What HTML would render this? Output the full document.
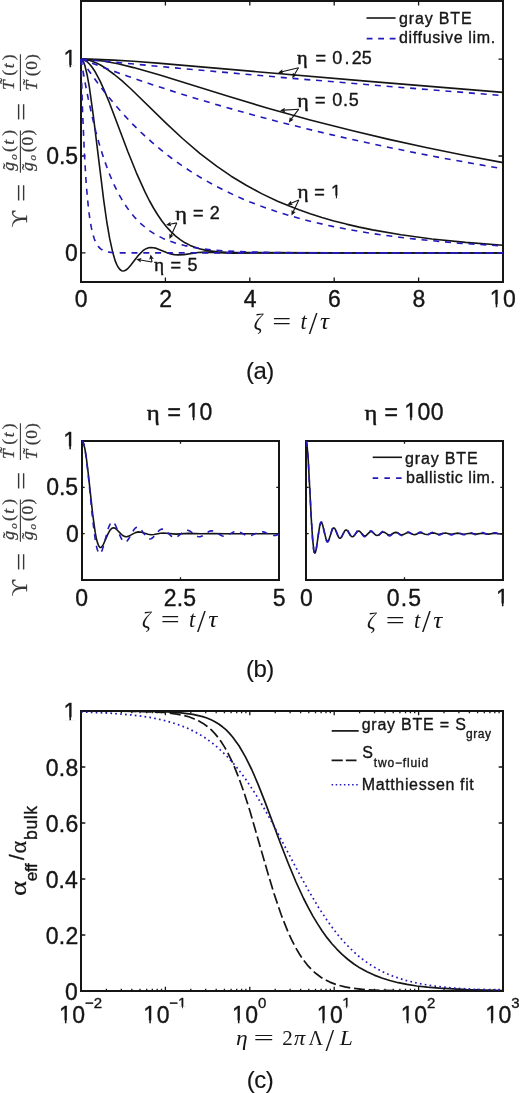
<!DOCTYPE html>
<html><head><meta charset="utf-8"><title>figure</title>
<style>html,body{margin:0;padding:0;background:#fff;overflow:hidden} svg{display:block}</style>
</head><body>
<svg width="520" height="1093" viewBox="0 0 520 1093"><rect width="520" height="1093" fill="#fff"/><path d="M81.0 282v-4.5M81.0 1v4.5M165.4 282v-4.5M165.4 1v4.5M249.8 282v-4.5M249.8 1v4.5M334.2 282v-4.5M334.2 1v4.5M418.6 282v-4.5M418.6 1v4.5M503.0 282v-4.5M503.0 1v4.5M81 252.9h4.5M503 252.9h-4.5M81 156.0h4.5M503 156.0h-4.5M81 59.1h4.5M503 59.1h-4.5" stroke="#151515" stroke-width="1.3" fill="none"/><rect x="81" y="1" width="422" height="281" fill="none" stroke="#151515" stroke-width="2.0"/><path d="M81 59.1 L96.2 59.4 L113.5 60.1 L133.6 61.3 L157.7 63.1 L369.1 81.4 L503 92.4" fill="none" stroke="#151515" stroke-width="1.6" stroke-linejoin="round"/><path d="M81 59.1 L92.1 59.6 L104.3 61.2 L118 63.8 L133.6 67.6 L159.8 75.1 L229 96.6 L267.9 108.2 L310.1 119.9 L352.7 130.8 L388.9 139.4 L426 147.5 L464 155.3 L503 162.6" fill="none" stroke="#151515" stroke-width="1.6" stroke-linejoin="round"/><path d="M81 59.1 L84.6 59.4 L88.3 60.1 L92.2 61.2 L96.3 62.9 L100.5 65 L104.9 67.7 L114.3 74.5 L122.1 80.9 L131 89 L166 123.1 L182.5 138.5 L199.8 153.3 L216.6 166.2 L231.2 176.2 L246.2 185.3 L261.6 193.6 L277.6 201.2 L288.1 205.6 L299 209.8 L310.2 213.7 L321.9 217.4 L333.9 220.9 L346.3 224.1 L359.2 227.1 L372.6 229.9 L401 234.8 L431.9 239 L465.6 242.4 L503 245.3" fill="none" stroke="#151515" stroke-width="1.6" stroke-linejoin="round"/><path d="M81 59.1 L83.2 59.5 L85.4 60.5 L87.7 62.2 L89.9 64.5 L92.3 67.5 L94.8 71.2 L100 80.9 L104.4 90.6 L109.4 102.7 L128 152 L136.4 172.8 L145.1 192.2 L149.3 200.5 L153.5 208 L157.8 215 L162.1 221.2 L166.4 226.7 L170.9 231.6 L175.4 235.9 L180.2 239.6 L185.1 242.8 L190.2 245.4 L198.3 248.5 L207.3 250.6 L217.7 251.9 L230.7 252.6 L336.2 252.9 L503 252.9" fill="none" stroke="#151515" stroke-width="1.6" stroke-linejoin="round"/><path d="M81 59.1 L81.9 59.5 L82.9 60.8 L84 63 L85 66 L87.1 74.7 L89.4 87.4 L93.4 116.3 L103.8 200.9 L106.8 222 L109.7 238.7 L112.6 251.9 L115.4 261.4 L116.9 264.9 L118.4 267.6 L119.9 269.5 L121.5 270.7 L122.9 271 L124.4 270.8 L126 270 L127.7 268.7 L130.7 265.3 L138.6 255.1 L142.9 250.7 L144.9 249.4 L146.7 248.4 L148.7 247.8 L150.7 247.5 L153.4 247.7 L156.5 248.4 L166.6 252.5 L170.6 253.9 L174.3 254.6 L178.1 254.9 L184 254.6 L198.1 252.5 L205.3 252.1 L232.2 253.3 L259.1 252.8 L285.8 253 L503 252.9" fill="none" stroke="#151515" stroke-width="1.6" stroke-linejoin="round"/><path d="M81 59.1 L183.7 68.7 L288.3 78 L394.7 86.9 L503 95.6" fill="none" stroke="#2219b8" stroke-width="1.6" stroke-dasharray="6 5.8" stroke-linejoin="round"/><path d="M81 59.1 L104.2 67.8 L127.7 76.2 L151.6 84.4 L176 92.3 L200.7 99.9 L225.8 107.3 L251.4 114.5 L277.4 121.4 L303.9 128.1 L330.8 134.6 L358.2 140.8 L386.1 146.8 L414.5 152.6 L443.5 158.2 L472.9 163.5 L503 168.7" fill="none" stroke="#2219b8" stroke-width="1.6" stroke-dasharray="6 5.8" stroke-linejoin="round"/><path d="M81 59.1 L89.2 71.2 L97.5 82.8 L105.9 93.7 L114.6 104.3 L123.5 114.4 L132.6 124.1 L141.9 133.2 L151.5 141.9 L161.3 150.2 L171.3 158 L181.6 165.4 L192.3 172.5 L203.3 179.2 L214.5 185.4 L226.1 191.3 L238 196.9 L250.1 202 L262.7 206.8 L275.6 211.3 L289.1 215.5 L303 219.4 L317.5 223 L332.6 226.4 L348.2 229.5 L364.4 232.3 L381.4 234.9 L399.2 237.2 L417.9 239.4 L458.1 243.1 L503 246" fill="none" stroke="#2219b8" stroke-width="1.6" stroke-dasharray="6 5.8" stroke-linejoin="round"/><path d="M81 59.1 L84.5 79.5 L88.2 98.5 L92 115.9 L95.9 132 L100 146.6 L104.4 160.3 L108.9 172.6 L113.6 183.8 L118.6 193.8 L123.8 202.8 L129.3 210.8 L135.2 217.9 L141.4 224.2 L148.1 229.7 L155.3 234.4 L163 238.4 L169.8 241.2 L177 243.6 L184.8 245.6 L193.4 247.4 L202.9 248.8 L213.3 250 L224.9 250.9 L238.2 251.6 L266 252.4 L305.4 252.8 L503 252.9" fill="none" stroke="#2219b8" stroke-width="1.6" stroke-dasharray="6 5.8" stroke-linejoin="round"/><path d="M81 59.1 L82.5 110.2 L84.4 153.5 L86.3 185.5 L88.6 209.7 L89.9 219.3 L91.3 227.4 L92.7 233.6 L94.4 239.1 L96.2 243.3 L98.2 246.4 L100.6 248.9 L103.4 250.6 L106.6 251.7 L110.8 252.4 L116.5 252.8 L125.5 252.9 L503 252.9" fill="none" stroke="#2219b8" stroke-width="1.6" stroke-dasharray="6 5.8" stroke-linejoin="round"/><text x="74.80" y="306.70" font-size="23" fill="#151515" style="font-family:'Liberation Sans',Arial,sans-serif"  stroke="#151515" stroke-width="0.35" stroke-linejoin="round">0</text><text x="159.20" y="306.70" font-size="23" fill="#151515" style="font-family:'Liberation Sans',Arial,sans-serif"  stroke="#151515" stroke-width="0.35" stroke-linejoin="round">2</text><text x="243.68" y="306.70" font-size="23" fill="#151515" style="font-family:'Liberation Sans',Arial,sans-serif"  stroke="#151515" stroke-width="0.35" stroke-linejoin="round">4</text><text x="327.93" y="306.70" font-size="23" fill="#151515" style="font-family:'Liberation Sans',Arial,sans-serif"  stroke="#151515" stroke-width="0.35" stroke-linejoin="round">6</text><text x="412.40" y="306.70" font-size="23" fill="#151515" style="font-family:'Liberation Sans',Arial,sans-serif"  stroke="#151515" stroke-width="0.35" stroke-linejoin="round">8</text><text x="489.68" y="306.70" font-size="23" letter-spacing="0.60" fill="#151515" style="font-family:'Liberation Sans',Arial,sans-serif"  stroke="#151515" stroke-width="0.35" stroke-linejoin="round">10</text><rect x="490.43" y="304.38" width="5.28" height="3.52" fill="#fff"/><rect x="497.25" y="304.38" width="5.10" height="3.52" fill="#fff"/><text x="63.53" y="67.40" font-size="23" fill="#151515" style="font-family:'Liberation Sans',Arial,sans-serif"  stroke="#151515" stroke-width="0.35" stroke-linejoin="round">1</text><rect x="64.28" y="65.08" width="5.28" height="3.52" fill="#fff"/><rect x="71.10" y="65.08" width="5.10" height="3.52" fill="#fff"/><text x="46.30 59.04 65.37" y="164.00" font-size="23" fill="#151515" style="font-family:'Liberation Sans',Arial,sans-serif"  stroke="#151515" stroke-width="0.35" stroke-linejoin="round">0.5</text><text x="65.11" y="261.20" font-size="23" fill="#151515" style="font-family:'Liberation Sans',Arial,sans-serif"  stroke="#151515" stroke-width="0.35" stroke-linejoin="round">0</text><path d="M366.5 18H395.6" stroke="#151515" stroke-width="1.6"/><path d="M366.7 38.6H396.2" stroke="#2219b8" stroke-width="1.7" stroke-dasharray="5.8 5.7"/><text x="399.03" y="24.00" font-size="16" letter-spacing="0.85" fill="#151515" style="font-family:'Liberation Sans',Arial,sans-serif"  stroke="#151515" stroke-width="0.35" stroke-linejoin="round">gray BTE</text><text x="399.03" y="43.30" font-size="16" letter-spacing="0.65" fill="#151515" style="font-family:'Liberation Sans',Arial,sans-serif"  stroke="#151515" stroke-width="0.35" stroke-linejoin="round">diffusive lim.</text><text x="296.98" y="64.27" font-size="17.98" fill="#151515" textLength="10.57" lengthAdjust="spacingAndGlyphs" style="font-family:'Liberation Serif','Times New Roman',serif" stroke="#151515" stroke-width="0.45">η</text><text x="315.55" y="64.00" font-size="18" fill="#151515" style="font-family:'Liberation Sans',Arial,sans-serif" stroke="#151515" stroke-width="0.5">=</text><text x="332.30 344.47 351.63 361.65" y="64.00" font-size="18" fill="#151515" style="font-family:'Liberation Sans',Arial,sans-serif"  stroke="#151515" stroke-width="0.35" stroke-linejoin="round">0.25</text><text x="297.26" y="106.58" font-size="18.42" fill="#151515" textLength="11.49" lengthAdjust="spacingAndGlyphs" style="font-family:'Liberation Serif','Times New Roman',serif" stroke="#151515" stroke-width="0.45">η</text><text x="315.00" y="106.00" font-size="18" fill="#151515" style="font-family:'Liberation Sans',Arial,sans-serif" stroke="#151515" stroke-width="0.5">=</text><text x="332.30 343.03 348.75" y="106.00" font-size="18" fill="#151515" style="font-family:'Liberation Sans',Arial,sans-serif"  stroke="#151515" stroke-width="0.35" stroke-linejoin="round">0.5</text><text x="297.57" y="197.87" font-size="17.98" fill="#151515" textLength="11.03" lengthAdjust="spacingAndGlyphs" style="font-family:'Liberation Serif','Times New Roman',serif" stroke="#151515" stroke-width="0.45">η</text><text x="314.25" y="197.60" font-size="18" fill="#151515" style="font-family:'Liberation Sans',Arial,sans-serif" stroke="#151515" stroke-width="0.5">=</text><text x="331.10" y="197.60" font-size="18" fill="#151515" style="font-family:'Liberation Sans',Arial,sans-serif"  stroke="#151515" stroke-width="0.35" stroke-linejoin="round">1</text><rect x="331.47" y="195.66" width="4.41" height="3.14" fill="#fff"/><rect x="336.97" y="195.66" width="4.26" height="3.14" fill="#fff"/><text x="175.15" y="219.59" font-size="19.3" fill="#151515" textLength="11.61" lengthAdjust="spacingAndGlyphs" style="font-family:'Liberation Serif','Times New Roman',serif" stroke="#151515" stroke-width="0.45">η</text><text x="193.10" y="219.40" font-size="18" fill="#151515" style="font-family:'Liberation Sans',Arial,sans-serif" stroke="#151515" stroke-width="0.5">=</text><text x="209.84" y="219.40" font-size="18" fill="#151515" style="font-family:'Liberation Sans',Arial,sans-serif"  stroke="#151515" stroke-width="0.35" stroke-linejoin="round">2</text><text x="153.90" y="271.38" font-size="18.86" fill="#151515" textLength="10.11" lengthAdjust="spacingAndGlyphs" style="font-family:'Liberation Serif','Times New Roman',serif" stroke="#151515" stroke-width="0.45">η</text><text x="170.50" y="271.10" font-size="18" fill="#151515" style="font-family:'Liberation Sans',Arial,sans-serif" stroke="#151515" stroke-width="0.5">=</text><text x="187.61" y="271.10" font-size="18" fill="#151515" style="font-family:'Liberation Sans',Arial,sans-serif"  stroke="#151515" stroke-width="0.35" stroke-linejoin="round">5</text><path d="M298.5 67.7L282.0 71.7" stroke="#151515" stroke-width="1.1" fill="none"/><path d="M278.1 72.7L282.4 69.3L282.2 71.7L283.5 73.7Z" fill="#151515"/><path d="M298.5 67.7L294.3 74.7" stroke="#151515" stroke-width="1.1" fill="none"/><path d="M292.3 78.1L292.9 72.6L294.5 74.5L296.8 75.0Z" fill="#151515"/><path d="M298.8 109.2L284.1 110.1" stroke="#151515" stroke-width="1.1" fill="none"/><path d="M280.1 110.4L284.9 107.8L284.3 110.1L285.2 112.4Z" fill="#151515"/><path d="M298.8 109.2L291.2 119.2" stroke="#151515" stroke-width="1.1" fill="none"/><path d="M288.8 122.4L289.9 117.0L291.3 119.1L293.6 119.8Z" fill="#151515"/><path d="M298.8 200.0L291.0 203.3" stroke="#151515" stroke-width="1.1" fill="none"/><path d="M287.3 204.8L291.0 200.8L291.2 203.2L292.8 205.0Z" fill="#151515"/><path d="M298.8 200.0L293.2 211.8" stroke="#151515" stroke-width="1.1" fill="none"/><path d="M291.5 215.4L291.6 209.9L293.3 211.6L295.7 211.9Z" fill="#151515"/><path d="M176.8 222.9L169.9 224.2" stroke="#151515" stroke-width="1.1" fill="none"/><path d="M166.0 224.9L170.5 221.7L170.1 224.1L171.3 226.3Z" fill="#151515"/><path d="M176.8 222.9L171.1 235.4" stroke="#151515" stroke-width="1.1" fill="none"/><path d="M169.4 239.0L169.4 233.5L171.2 235.2L173.6 235.4Z" fill="#151515"/><path d="M152.0 262.0L140.2 260.0" stroke="#151515" stroke-width="1.1" fill="none"/><path d="M136.3 259.3L141.6 257.9L140.4 260.0L140.8 262.4Z" fill="#151515"/><path d="M152.0 262.0L151.3 258.3" stroke="#151515" stroke-width="1.1" fill="none"/><path d="M150.6 254.4L153.8 258.9L151.4 258.5L149.2 259.7Z" fill="#151515"/><path d="M82.0 580v-2.7M82.0 441v2.7M180.5 580v-2.7M180.5 441v2.7M279.0 580v-2.7M279.0 441v2.7M82 533.7h2.7M279 533.7h-2.7M82 487.3h2.7M279 487.3h-2.7M82 441.0h2.7M279 441.0h-2.7" stroke="#151515" stroke-width="1.3" fill="none"/><rect x="82" y="441" width="197" height="139" fill="none" stroke="#151515" stroke-width="2.0"/><path d="M306.0 580v-2.7M306.0 441v2.7M404.5 580v-2.7M404.5 441v2.7M503.0 580v-2.7M503.0 441v2.7M306 533.7h2.7M503 533.7h-2.7M306 487.3h2.7M503 487.3h-2.7M306 441.0h2.7M503 441.0h-2.7" stroke="#151515" stroke-width="1.3" fill="none"/><rect x="306" y="441" width="197" height="139" fill="none" stroke="#151515" stroke-width="2.0"/><path d="M82 441 L82.5 441.2 L83 442 L84 444.8 L85 449.5 L86.1 456 L88 471.3 L92.7 514.3 L95.2 532.4 L96.4 538.6 L97.6 543.1 L98.8 546 L100 547.4 L100.8 547.5 L101.5 547.1 L103 545.2 L108 533.9 L109.9 530.4 L111.6 528.5 L113.3 527.8 L114.7 528 L116.2 529 L120.9 533.9 L122.7 535.5 L124.4 536.4 L126 536.7 L127.3 536.6 L128.8 536.1 L135.4 532.6 L138.5 531.9 L141.5 532.3 L148 534.3 L151 534.7 L154 534.5 L160.5 533.2 L163.5 533 L175.9 534.1 L188.4 533.4 L200.8 533.8 L213.2 533.6 L225.5 533.7 L279 533.7" fill="none" stroke="#151515" stroke-width="1.6" stroke-linejoin="round"/><path d="M82 441 L82.5 441.3 L83 442 L84 445.1 L85.1 450.3 L86.2 457.7 L88.2 474.7 L92.8 520.8 L95.2 539.2 L96.2 545.3 L97.3 549.6 L98.3 552.4 L99.3 553.7 L100 553.8 L100.6 553.3 L101.9 550.9 L103.5 546.1 L107.1 532.5 L108.7 527.1 L110.5 523.2 L111.4 522.2 L112.3 521.8 L113 521.9 L113.8 522.4 L115.3 524.7 L120.2 536.2 L121.9 539.6 L123.4 541.4 L124.8 542.1 L126.1 541.8 L127.5 540.5 L129 538.3 L134 529.5 L135.7 527.7 L137.3 527.1 L138.6 527.4 L140 528.4 L141.5 530.2 L146.4 537.1 L148.1 538.5 L149.7 539 L151 538.8 L152.4 538 L154 536.4 L158.9 530.7 L160.5 529.6 L162.1 529.1 L163.5 529.3 L164.9 530.1 L171.3 536.2 L173 537.2 L174.5 537.6 L175.9 537.4 L177.3 536.8 L183.7 531.4 L185.4 530.5 L186.9 530.2 L188.3 530.4 L189.7 530.9 L196.1 535.7 L197.7 536.5 L199.2 536.8 L200.6 536.6 L202.1 536.1 L208.5 531.8 L210.1 531.1 L211.7 530.9 L213 531 L214.5 531.5 L220.9 535.3 L222.4 536 L223.9 536.2 L225.4 536.1 L226.9 535.7 L233.2 532.1 L234.9 531.5 L236.4 531.3 L237.8 531.4 L239.3 531.8 L245.6 535.1 L248.5 535.8 L250 535.8 L251.6 535.4 L258 532.4 L261 531.6 L262.6 531.7 L264.2 532.1 L270.1 534.8 L272.6 535.5 L275.6 535.4 L279 534.2" fill="none" stroke="#2219b8" stroke-width="1.6" stroke-dasharray="6 5.8" stroke-linejoin="round"/><path d="M306 441 L306.5 442 L307 445.1 L308.1 457.3 L311.4 520.6 L312.6 538.9 L313.7 549.2 L314.2 552 L314.8 553.1 L315.1 553 L315.5 552.2 L316.3 548.9 L319.6 526.4 L320.5 523.5 L321.2 522.5 L322 523.2 L322.7 525.3 L326 538.9 L326.8 540.8 L327.5 541.3 L328.2 540.9 L329 539.4 L332.3 529.5 L333 528.3 L333.7 527.9 L334.5 528.3 L335.3 529.4 L338.5 537 L339.3 537.9 L340 538.2 L340.7 537.9 L341.5 537 L344.7 530.9 L345.5 530.2 L346.2 529.9 L346.9 530.2 L347.7 531 L351 536 L351.7 536.6 L352.4 536.8 L353.1 536.6 L353.9 536 L357.2 531.7 L358.6 531 L359.3 531.1 L360.1 531.7 L363.4 535.4 L364.8 536 L366.3 535.4 L369.6 532.1 L371 531.6 L372.3 532 L375.5 534.9 L377.2 535.5 L378.5 535.1 L381.7 532.6 L383.3 532.1 L384.7 532.4 L387.9 534.6 L389.5 535.1 L390.9 534.8 L394.1 532.8 L395.8 532.4 L397.1 532.6 L400.3 534.5 L401.9 534.9 L403.3 534.6 L406.5 533 L408.1 532.6 L409.5 532.8 L412.7 534.3 L414.3 534.7 L415.7 534.4 L418.9 533.1 L420.5 532.8 L421.9 533 L425.1 534.2 L426.7 534.5 L428.1 534.3 L431.3 533.2 L432.9 532.9 L434.2 533.1 L437.5 534.1 L439.1 534.4 L445.3 533 L451.4 534.3 L457.7 533.1 L463.8 534.2 L470 533.2 L476.1 534.1 L482.4 533.2 L488.3 534.1 L494.7 533.3 L500.3 534 L503 533.9" fill="none" stroke="#151515" stroke-width="1.6" stroke-linejoin="round"/><path d="M306 441 L306.5 442 L307 445.1 L308.1 457.4 L311.4 520.5 L312.6 539.2 L313.6 549.8 L314.2 552.6 L314.7 553.8 L315.1 553.6 L315.5 552.9 L316.2 549.4 L319.6 525.9 L320.4 522.9 L321.2 521.8 L321.9 522.4 L322.7 524.7 L325.9 539.5 L326.7 541.4 L327.4 542.1 L328.2 541.6 L329 539.9 L332.2 528.9 L333 527.6 L333.7 527.1 L334.4 527.5 L335.2 528.8 L338.5 537.6 L339.2 538.7 L339.9 539 L340.6 538.7 L341.4 537.6 L344.7 530.3 L345.4 529.4 L346.1 529.1 L346.9 529.4 L347.7 530.4 L350.9 536.6 L351.6 537.3 L352.3 537.6 L353 537.4 L353.6 536.8 L356.9 531.4 L357.7 530.5 L358.5 530.2 L359.2 530.4 L359.8 530.9 L363.1 535.7 L363.9 536.5 L364.7 536.8 L366 536.1 L369.3 531.8 L370.1 531.1 L370.9 530.9 L371.7 531 L372.5 531.7 L375.7 535.6 L377.1 536.2 L378.4 535.7 L381.7 532.1 L382.5 531.5 L383.3 531.3 L384.6 531.8 L387.9 535.1 L388.7 535.7 L389.5 535.9 L390.8 535.4 L394.1 532.3 L395.7 531.6 L397 532.1 L400.3 535 L401.8 535.6 L403.2 535.2 L406.5 532.5 L408.1 531.9 L409.4 532.3 L412.6 534.8 L414.2 535.4 L415.6 535 L418.8 532.6 L420.4 532.1 L421.8 532.4 L425 534.7 L426.6 535.2 L428 534.9 L431.2 532.7 L432.8 532.2 L434.2 532.6 L437.4 534.6 L439 535 L440.4 534.7 L443.6 532.8 L445.2 532.4 L446.6 532.6 L449.8 534.5 L451.3 534.9 L452.8 534.6 L456 532.8 L457.6 532.5 L459 532.7 L462.1 534.4 L463.7 534.8 L465.1 534.6 L468.4 532.9 L469.9 532.6 L471.4 532.8 L474.5 534.4 L476 534.7 L477.5 534.5 L480.7 533 L482.3 532.6 L483.8 532.9 L486.8 534.3 L488.3 534.7 L489.8 534.5 L493.1 533 L494.6 532.7 L496.2 532.9 L500.2 534.5 L501.5 534.6 L503 534.1" fill="none" stroke="#2219b8" stroke-width="1.6" stroke-dasharray="6 5.8" stroke-linejoin="round"/><text x="75.15" y="605.80" font-size="23" fill="#151515" style="font-family:'Liberation Sans',Arial,sans-serif"  stroke="#151515" stroke-width="0.35" stroke-linejoin="round">0</text><text x="163.74 176.71 183.27" y="605.80" font-size="23" fill="#151515" style="font-family:'Liberation Sans',Arial,sans-serif"  stroke="#151515" stroke-width="0.35" stroke-linejoin="round">2.5</text><text x="272.83" y="605.80" font-size="23" fill="#151515" style="font-family:'Liberation Sans',Arial,sans-serif"  stroke="#151515" stroke-width="0.35" stroke-linejoin="round">5</text><text x="300.10" y="605.80" font-size="23" fill="#151515" style="font-family:'Liberation Sans',Arial,sans-serif"  stroke="#151515" stroke-width="0.35" stroke-linejoin="round">0</text><text x="386.70 400.74 408.37" y="605.80" font-size="23" fill="#151515" style="font-family:'Liberation Sans',Arial,sans-serif"  stroke="#151515" stroke-width="0.35" stroke-linejoin="round">0.5</text><text x="495.89" y="605.80" font-size="23" fill="#151515" style="font-family:'Liberation Sans',Arial,sans-serif"  stroke="#151515" stroke-width="0.35" stroke-linejoin="round">1</text><rect x="496.64" y="603.48" width="5.28" height="3.52" fill="#fff"/><rect x="503.46" y="603.48" width="5.10" height="3.52" fill="#fff"/><text x="63.33" y="448.60" font-size="23" fill="#151515" style="font-family:'Liberation Sans',Arial,sans-serif"  stroke="#151515" stroke-width="0.35" stroke-linejoin="round">1</text><rect x="64.08" y="446.28" width="5.28" height="3.52" fill="#fff"/><rect x="70.90" y="446.28" width="5.10" height="3.52" fill="#fff"/><text x="46.30 59.04 65.37" y="495.00" font-size="23" fill="#151515" style="font-family:'Liberation Sans',Arial,sans-serif"  stroke="#151515" stroke-width="0.35" stroke-linejoin="round">0.5</text><text x="66.00" y="542.30" font-size="23" fill="#151515" style="font-family:'Liberation Sans',Arial,sans-serif"  stroke="#151515" stroke-width="0.35" stroke-linejoin="round">0</text><text x="146.81" y="419.83" font-size="21.93" fill="#151515" textLength="12.99" lengthAdjust="spacingAndGlyphs" style="font-family:'Liberation Serif','Times New Roman',serif" stroke="#151515" stroke-width="0.45">η</text><text x="167.54" y="419.80" font-size="23" fill="#151515" style="font-family:'Liberation Sans',Arial,sans-serif" stroke="#151515" stroke-width="0.5">=</text><text x="186.85" y="419.80" font-size="23" letter-spacing="-0.13" fill="#151515" style="font-family:'Liberation Sans',Arial,sans-serif"  stroke="#151515" stroke-width="0.35" stroke-linejoin="round">10</text><rect x="187.60" y="417.48" width="5.28" height="3.52" fill="#fff"/><rect x="194.41" y="417.48" width="5.10" height="3.52" fill="#fff"/><text x="364.52" y="419.83" font-size="21.93" fill="#151515" textLength="12.76" lengthAdjust="spacingAndGlyphs" style="font-family:'Liberation Serif','Times New Roman',serif" stroke="#151515" stroke-width="0.45">η</text><text x="384.39" y="419.80" font-size="23" fill="#151515" style="font-family:'Liberation Sans',Arial,sans-serif" stroke="#151515" stroke-width="0.5">=</text><text x="404.15" y="419.80" font-size="23" letter-spacing="0.54" fill="#151515" style="font-family:'Liberation Sans',Arial,sans-serif"  stroke="#151515" stroke-width="0.35" stroke-linejoin="round">100</text><rect x="404.90" y="417.48" width="5.28" height="3.52" fill="#fff"/><rect x="411.71" y="417.48" width="5.10" height="3.52" fill="#fff"/><path d="M372.7 457.3H402" stroke="#151515" stroke-width="1.6"/><path d="M372.7 478.2H402" stroke="#2219b8" stroke-width="1.7" stroke-dasharray="5.5 6.2"/><text x="405.03" y="463.60" font-size="16" letter-spacing="0.85" fill="#151515" style="font-family:'Liberation Sans',Arial,sans-serif"  stroke="#151515" stroke-width="0.35" stroke-linejoin="round">gray BTE</text><text x="405.97" y="483.40" font-size="16" letter-spacing="0.55" fill="#151515" style="font-family:'Liberation Sans',Arial,sans-serif"  stroke="#151515" stroke-width="0.35" stroke-linejoin="round">ballistic lim.</text><path d="M81.0 991v-4.3M81.0 711v4.3M165.4 991v-4.3M165.4 711v4.3M249.8 991v-4.3M249.8 711v4.3M334.2 991v-4.3M334.2 711v4.3M418.6 991v-4.3M418.6 711v4.3M503.0 991v-4.3M503.0 711v4.3M81 991.0h4.3M503 991.0h-4.3M81 935.0h4.3M503 935.0h-4.3M81 879.0h4.3M503 879.0h-4.3M81 823.0h4.3M503 823.0h-4.3M81 767.0h4.3M503 767.0h-4.3M81 711.0h4.3M503 711.0h-4.3M106.4 991v-2.3M106.4 711v2.3M121.3 991v-2.3M121.3 711v2.3M131.8 991v-2.3M131.8 711v2.3M140.0 991v-2.3M140.0 711v2.3M146.7 991v-2.3M146.7 711v2.3M152.3 991v-2.3M152.3 711v2.3M157.2 991v-2.3M157.2 711v2.3M161.5 991v-2.3M161.5 711v2.3M190.8 991v-2.3M190.8 711v2.3M205.7 991v-2.3M205.7 711v2.3M216.2 991v-2.3M216.2 711v2.3M224.4 991v-2.3M224.4 711v2.3M231.1 991v-2.3M231.1 711v2.3M236.7 991v-2.3M236.7 711v2.3M241.6 991v-2.3M241.6 711v2.3M245.9 991v-2.3M245.9 711v2.3M275.2 991v-2.3M275.2 711v2.3M290.1 991v-2.3M290.1 711v2.3M300.6 991v-2.3M300.6 711v2.3M308.8 991v-2.3M308.8 711v2.3M315.5 991v-2.3M315.5 711v2.3M321.1 991v-2.3M321.1 711v2.3M326.0 991v-2.3M326.0 711v2.3M330.3 991v-2.3M330.3 711v2.3M359.6 991v-2.3M359.6 711v2.3M374.5 991v-2.3M374.5 711v2.3M385.0 991v-2.3M385.0 711v2.3M393.2 991v-2.3M393.2 711v2.3M399.9 991v-2.3M399.9 711v2.3M405.5 991v-2.3M405.5 711v2.3M410.4 991v-2.3M410.4 711v2.3M414.7 991v-2.3M414.7 711v2.3M444.0 991v-2.3M444.0 711v2.3M458.9 991v-2.3M458.9 711v2.3M469.4 991v-2.3M469.4 711v2.3M477.6 991v-2.3M477.6 711v2.3M484.3 991v-2.3M484.3 711v2.3M489.9 991v-2.3M489.9 711v2.3M494.8 991v-2.3M494.8 711v2.3M499.1 991v-2.3M499.1 711v2.3" stroke="#151515" stroke-width="1.3" fill="none"/><rect x="81" y="711" width="422" height="280" fill="none" stroke="#151515" stroke-width="2.0"/><path d="M81 711 L122.4 711.2 L146.5 711.6 L163.8 712.5 L176.9 714.1 L183.2 715.4 L188.7 716.8 L193.8 718.7 L198.4 720.8 L203.1 723.4 L207.3 726.5 L211.1 729.7 L214.9 733.6 L218.3 737.7 L221.2 741.8 L224.6 747.1 L227.6 752.3 L233.5 764.6 L239.4 779.4 L244.5 793.9 L250 811.3 L267.3 871.3 L274 893.6 L281.2 914.8 L288 931.9 L291.8 940.2 L295.6 947.5 L299.4 954 L303.2 959.7 L307.4 965.1 L311.6 969.6 L316.3 973.8 L320.9 977.2 L325.2 979.8 L329.8 982.1 L334.5 983.9 L339.5 985.5 L345 986.9 L350.9 988 L365.3 989.6 L380.9 990.4 L402.9 990.8 L503 991" fill="none" stroke="#151515" stroke-width="1.7" stroke-dasharray="11 3.8" stroke-linejoin="round"/><path d="M81 711 L149.9 711.3 L167.6 711.8 L181.1 712.8 L192.9 714.3 L202.7 716.6 L206.9 718 L211.1 719.8 L214.9 721.7 L218.7 724 L222.5 726.8 L225.9 729.7 L229.3 733.1 L232.6 737 L239 745.8 L245.3 756.6 L251.7 769.5 L258 784.1 L265.2 802.4 L280.8 844.2 L288 862.7 L296 882 L303.6 898.5 L308.3 907.7 L312.9 916.1 L317.6 923.9 L322.2 931 L326.8 937.4 L331.9 943.7 L337 949.3 L342.1 954.4 L348 959.5 L353.9 964 L360.2 968.1 L367 971.8 L374.2 975.1 L381.8 978 L389.8 980.5 L398.2 982.7 L407.1 984.4 L416.8 986 L427.4 987.2 L439.2 988.2 L466.7 989.7 L503 990.5" fill="none" stroke="#151515" stroke-width="1.7" stroke-linejoin="round"/><path d="M81 712 L108.9 713.1 L131.3 714.9 L141 716.1 L149.9 717.4 L158.3 719.1 L166.3 721 L173.9 723.2 L181.1 725.7 L187.9 728.4 L194.2 731.5 L200.5 735 L206.5 738.8 L212.4 743.1 L218.3 748 L227.6 757 L236.9 767.5 L245.7 779.2 L255 793.2 L262.6 805.7 L271.1 820.6 L298.1 871.6 L308.3 890.1 L318.4 907.2 L327.7 921.3 L332.8 928.2 L337.8 934.7 L342.9 940.7 L348 946.1 L353 951.1 L358.5 956 L364 960.3 L369.5 964.2 L375 967.6 L380.5 970.6 L386.4 973.5 L392.3 975.9 L398.7 978.2 L405.4 980.3 L412.6 982.1 L419.8 983.7 L435.8 986.2 L454 988.1 L476 989.4 L503 990.2" fill="none" stroke="#2219b8" stroke-width="1.7" stroke-dasharray="1.7 3.2" stroke-linejoin="round"/><text x="58.88" y="1022.70" font-size="23" letter-spacing="0.60" fill="#151515" style="font-family:'Liberation Sans',Arial,sans-serif"  stroke="#151515" stroke-width="0.35" stroke-linejoin="round">10</text><rect x="59.63" y="1020.38" width="5.28" height="3.52" fill="#fff"/><rect x="66.44" y="1020.38" width="5.10" height="3.52" fill="#fff"/><text x="84.92" y="1008.20" font-size="15" fill="#151515" style="font-family:'Liberation Sans',Arial,sans-serif"  stroke="#151515" stroke-width="0.35" stroke-linejoin="round">−2</text><text x="143.27" y="1022.70" font-size="23" letter-spacing="0.60" fill="#151515" style="font-family:'Liberation Sans',Arial,sans-serif"  stroke="#151515" stroke-width="0.35" stroke-linejoin="round">10</text><rect x="144.02" y="1020.38" width="5.28" height="3.52" fill="#fff"/><rect x="150.83" y="1020.38" width="5.10" height="3.52" fill="#fff"/><text x="169.31" y="1008.20" font-size="15" fill="#151515" style="font-family:'Liberation Sans',Arial,sans-serif"  stroke="#151515" stroke-width="0.35" stroke-linejoin="round">−1</text><rect x="178.21" y="1006.48" width="3.88" height="2.92" fill="#fff"/><rect x="182.92" y="1006.48" width="3.76" height="2.92" fill="#fff"/><text x="231.90" y="1022.70" font-size="23" letter-spacing="0.60" fill="#151515" style="font-family:'Liberation Sans',Arial,sans-serif"  stroke="#151515" stroke-width="0.35" stroke-linejoin="round">10</text><rect x="232.65" y="1020.38" width="5.28" height="3.52" fill="#fff"/><rect x="239.46" y="1020.38" width="5.10" height="3.52" fill="#fff"/><text x="258.10" y="1008.20" font-size="15" fill="#151515" style="font-family:'Liberation Sans',Arial,sans-serif"  stroke="#151515" stroke-width="0.35" stroke-linejoin="round">0</text><text x="316.65" y="1022.70" font-size="23" letter-spacing="0.60" fill="#151515" style="font-family:'Liberation Sans',Arial,sans-serif"  stroke="#151515" stroke-width="0.35" stroke-linejoin="round">10</text><rect x="317.40" y="1020.38" width="5.28" height="3.52" fill="#fff"/><rect x="324.21" y="1020.38" width="5.10" height="3.52" fill="#fff"/><text x="342.29" y="1008.20" font-size="15" fill="#151515" style="font-family:'Liberation Sans',Arial,sans-serif"  stroke="#151515" stroke-width="0.35" stroke-linejoin="round">1</text><rect x="342.43" y="1006.48" width="3.88" height="2.92" fill="#fff"/><rect x="347.14" y="1006.48" width="3.76" height="2.92" fill="#fff"/><text x="400.86" y="1022.70" font-size="23" letter-spacing="0.60" fill="#151515" style="font-family:'Liberation Sans',Arial,sans-serif"  stroke="#151515" stroke-width="0.35" stroke-linejoin="round">10</text><rect x="401.62" y="1020.38" width="5.28" height="3.52" fill="#fff"/><rect x="408.43" y="1020.38" width="5.10" height="3.52" fill="#fff"/><text x="426.90" y="1008.20" font-size="15" fill="#151515" style="font-family:'Liberation Sans',Arial,sans-serif"  stroke="#151515" stroke-width="0.35" stroke-linejoin="round">2</text><text x="485.13" y="1022.70" font-size="23" letter-spacing="0.60" fill="#151515" style="font-family:'Liberation Sans',Arial,sans-serif"  stroke="#151515" stroke-width="0.35" stroke-linejoin="round">10</text><rect x="485.88" y="1020.38" width="5.28" height="3.52" fill="#fff"/><rect x="492.69" y="1020.38" width="5.10" height="3.52" fill="#fff"/><text x="511.34" y="1008.20" font-size="15" fill="#151515" style="font-family:'Liberation Sans',Arial,sans-serif"  stroke="#151515" stroke-width="0.35" stroke-linejoin="round">3</text><text x="65.11" y="999.60" font-size="23" fill="#151515" style="font-family:'Liberation Sans',Arial,sans-serif"  stroke="#151515" stroke-width="0.35" stroke-linejoin="round">0</text><text x="45.65 58.81 65.57" y="943.60" font-size="23" fill="#151515" style="font-family:'Liberation Sans',Arial,sans-serif"  stroke="#151515" stroke-width="0.35" stroke-linejoin="round">0.2</text><text x="45.65 58.57 65.08" y="887.60" font-size="23" fill="#151515" style="font-family:'Liberation Sans',Arial,sans-serif"  stroke="#151515" stroke-width="0.35" stroke-linejoin="round">0.4</text><text x="45.65 58.74 65.42" y="831.60" font-size="23" fill="#151515" style="font-family:'Liberation Sans',Arial,sans-serif"  stroke="#151515" stroke-width="0.35" stroke-linejoin="round">0.6</text><text x="45.65 58.73 65.41" y="775.60" font-size="23" fill="#151515" style="font-family:'Liberation Sans',Arial,sans-serif"  stroke="#151515" stroke-width="0.35" stroke-linejoin="round">0.8</text><text x="63.43" y="719.60" font-size="23" fill="#151515" style="font-family:'Liberation Sans',Arial,sans-serif"  stroke="#151515" stroke-width="0.35" stroke-linejoin="round">1</text><rect x="64.18" y="717.28" width="5.28" height="3.52" fill="#fff"/><rect x="71.00" y="717.28" width="5.10" height="3.52" fill="#fff"/><path d="M331.7 730.9H358.7" stroke="#151515" stroke-width="1.7"/><path d="M331.6 760.3H356.5" stroke="#151515" stroke-width="1.7" stroke-dasharray="11.2 3"/><path d="M331.6 784.7H359.3" stroke="#2219b8" stroke-width="1.5" stroke-dasharray="1.5 2.6"/><text x="361.63" y="729.60" font-size="16" letter-spacing="0.78" fill="#151515" style="font-family:'Liberation Sans',Arial,sans-serif"  stroke="#151515" stroke-width="0.35" stroke-linejoin="round">gray BTE = S</text><text x="466.10" y="738.20" font-size="12" letter-spacing="0.53" fill="#151515" style="font-family:'Liberation Sans',Arial,sans-serif"  stroke="#151515" stroke-width="0.35" stroke-linejoin="round">gray</text><text x="362.17" y="757.80" font-size="16" fill="#151515" style="font-family:'Liberation Sans',Arial,sans-serif"  stroke="#151515" stroke-width="0.35" stroke-linejoin="round">S</text><text x="373.72" y="767.20" font-size="12" letter-spacing="0.86" fill="#151515" style="font-family:'Liberation Sans',Arial,sans-serif"  stroke="#151515" stroke-width="0.35" stroke-linejoin="round">two−fluid</text><text x="361.69" y="790.30" font-size="16" letter-spacing="0.64" fill="#151515" style="font-family:'Liberation Sans',Arial,sans-serif"  stroke="#151515" stroke-width="0.35" stroke-linejoin="round">Matthiessen fit</text><text x="246.11" y="378.60" font-size="24" letter-spacing="-0.63" fill="#151515" style="font-family:'Liberation Sans',Arial,sans-serif" stroke="#151515" stroke-width="0.15">(a)</text><text x="246.11" y="677.20" font-size="24" letter-spacing="-0.63" fill="#151515" style="font-family:'Liberation Sans',Arial,sans-serif" stroke="#151515" stroke-width="0.15">(b)</text><text x="246.71" y="1087.60" font-size="24" letter-spacing="-0.50" fill="#151515" style="font-family:'Liberation Sans',Arial,sans-serif" stroke="#151515" stroke-width="0.15">(c)</text><text x="253.71" y="329.20" font-size="22.5" fill="#151515" textLength="8.69" lengthAdjust="spacingAndGlyphs" style="font-family:'Liberation Serif','Times New Roman',serif;font-style:italic" >ζ</text><text x="272.32" y="329.20" font-size="22.5" fill="#151515" textLength="19.03" lengthAdjust="spacingAndGlyphs" style="font-family:'Liberation Serif','Times New Roman',serif" >=</text><text x="300.50" y="329.20" font-size="22.5" fill="#151515" style="font-family:'Liberation Serif','Times New Roman',serif;font-style:italic" >t</text><text x="308.67" y="333.60" font-size="31.5" fill="#151515" style="font-family:'Liberation Serif','Times New Roman',serif" >/</text><text x="319.98" y="329.20" font-size="22.5" fill="#151515" textLength="9.02" lengthAdjust="spacingAndGlyphs" style="font-family:'Liberation Serif','Times New Roman',serif;font-style:italic" >τ</text><text x="142.11" y="627.20" font-size="22.5" fill="#151515" textLength="8.69" lengthAdjust="spacingAndGlyphs" style="font-family:'Liberation Serif','Times New Roman',serif;font-style:italic" >ζ</text><text x="160.72" y="627.20" font-size="22.5" fill="#151515" textLength="19.03" lengthAdjust="spacingAndGlyphs" style="font-family:'Liberation Serif','Times New Roman',serif" >=</text><text x="188.90" y="627.20" font-size="22.5" fill="#151515" style="font-family:'Liberation Serif','Times New Roman',serif;font-style:italic" >t</text><text x="197.07" y="631.60" font-size="31.5" fill="#151515" style="font-family:'Liberation Serif','Times New Roman',serif" >/</text><text x="208.38" y="627.20" font-size="22.5" fill="#151515" textLength="9.02" lengthAdjust="spacingAndGlyphs" style="font-family:'Liberation Serif','Times New Roman',serif;font-style:italic" >τ</text><text x="367.11" y="628.00" font-size="22.5" fill="#151515" textLength="8.69" lengthAdjust="spacingAndGlyphs" style="font-family:'Liberation Serif','Times New Roman',serif;font-style:italic" >ζ</text><text x="385.72" y="628.00" font-size="22.5" fill="#151515" textLength="19.03" lengthAdjust="spacingAndGlyphs" style="font-family:'Liberation Serif','Times New Roman',serif" >=</text><text x="413.90" y="628.00" font-size="22.5" fill="#151515" style="font-family:'Liberation Serif','Times New Roman',serif;font-style:italic" >t</text><text x="422.07" y="632.40" font-size="31.5" fill="#151515" style="font-family:'Liberation Serif','Times New Roman',serif" >/</text><text x="433.38" y="628.00" font-size="22.5" fill="#151515" textLength="9.02" lengthAdjust="spacingAndGlyphs" style="font-family:'Liberation Serif','Times New Roman',serif;font-style:italic" >τ</text><text x="236.08" y="1045.40" font-size="21" fill="#151515" textLength="11.67" lengthAdjust="spacingAndGlyphs" style="font-family:'Liberation Serif','Times New Roman',serif;font-style:italic" >η</text><text x="253.49" y="1045.40" font-size="21" fill="#151515" textLength="20.48" lengthAdjust="spacingAndGlyphs" style="font-family:'Liberation Serif','Times New Roman',serif" >=</text><text x="282.17" y="1045.40" font-size="21" fill="#151515" style="font-family:'Liberation Serif','Times New Roman',serif" >2</text><text x="293.98" y="1045.40" font-size="21" fill="#151515" textLength="11.21" lengthAdjust="spacingAndGlyphs" style="font-family:'Liberation Serif','Times New Roman',serif;font-style:italic" >π</text><text x="308.60" y="1045.40" font-size="21" fill="#151515" textLength="14.50" lengthAdjust="spacingAndGlyphs" style="font-family:'Liberation Serif','Times New Roman',serif" >Λ</text><text x="325.59" y="1050.60" font-size="31" fill="#151515" style="font-family:'Liberation Serif','Times New Roman',serif" >/</text><text x="339.85" y="1045.40" font-size="21" fill="#151515" textLength="13.08" lengthAdjust="spacingAndGlyphs" style="font-family:'Liberation Serif','Times New Roman',serif;font-style:italic" >L</text><text x="-227.07" y="26.70" font-size="22.5" fill="#383838" textLength="16.15" lengthAdjust="spacingAndGlyphs" style="font-family:'Liberation Serif','Times New Roman',serif" stroke="#383838" stroke-width="0.25" transform="rotate(-90)">ϒ</text><text x="-201.79" y="28.90" font-size="24" fill="#383838" textLength="18.06" lengthAdjust="spacingAndGlyphs" style="font-family:'Liberation Serif','Times New Roman',serif" stroke="#222" stroke-width="0.15" transform="rotate(-90)">=</text><path d="M20.4 172.8V130.4" stroke="#383838" stroke-width="1.1"/><text x="-170.67" y="14.00" font-size="17.5" fill="#383838" style="font-family:'Liberation Serif','Times New Roman',serif;font-style:italic" stroke="#383838" stroke-width="0.25" transform="rotate(-90)">g</text><text x="-169.22" y="14.20" font-size="17.5" fill="#383838" style="font-family:'Liberation Serif','Times New Roman',serif" stroke="#383838" stroke-width="0.25" transform="rotate(-90)">˜</text><text x="-159.80" y="16.60" font-size="11" fill="#383838" style="font-family:'Liberation Serif','Times New Roman',serif;font-style:italic" stroke="#383838" stroke-width="0.25" transform="rotate(-90)">o</text><text x="-151.97" y="14.30" font-size="17.5" fill="#383838" style="font-family:'Liberation Serif','Times New Roman',serif" stroke="#383838" stroke-width="0.25" transform="rotate(-90)">(</text><text x="-144.69" y="14.30" font-size="17.5" fill="#383838" style="font-family:'Liberation Serif','Times New Roman',serif;font-style:italic" stroke="#383838" stroke-width="0.25" transform="rotate(-90)">t</text><text x="-135.86" y="14.30" font-size="17.5" fill="#383838" style="font-family:'Liberation Serif','Times New Roman',serif" stroke="#383838" stroke-width="0.25" transform="rotate(-90)">)</text><text x="-171.07" y="33.20" font-size="17.5" fill="#383838" style="font-family:'Liberation Serif','Times New Roman',serif;font-style:italic" stroke="#383838" stroke-width="0.25" transform="rotate(-90)">g</text><text x="-169.82" y="33.40" font-size="17.5" fill="#383838" style="font-family:'Liberation Serif','Times New Roman',serif" stroke="#383838" stroke-width="0.25" transform="rotate(-90)">˜</text><text x="-160.60" y="36.00" font-size="11" fill="#383838" style="font-family:'Liberation Serif','Times New Roman',serif;font-style:italic" stroke="#383838" stroke-width="0.25" transform="rotate(-90)">o</text><text x="-152.17" y="33.40" font-size="17.5" fill="#383838" style="font-family:'Liberation Serif','Times New Roman',serif" stroke="#383838" stroke-width="0.25" transform="rotate(-90)">(</text><text x="-145.53" y="33.40" font-size="17.5" fill="#383838" style="font-family:'Liberation Serif','Times New Roman',serif" stroke="#383838" stroke-width="0.25" transform="rotate(-90)">0</text><text x="-135.46" y="33.40" font-size="17.5" fill="#383838" style="font-family:'Liberation Serif','Times New Roman',serif" stroke="#383838" stroke-width="0.25" transform="rotate(-90)">)</text><text x="-120.79" y="28.90" font-size="24" fill="#383838" textLength="18.06" lengthAdjust="spacingAndGlyphs" style="font-family:'Liberation Serif','Times New Roman',serif" stroke="#222" stroke-width="0.15" transform="rotate(-90)">=</text><path d="M20.4 91.1V54.3" stroke="#383838" stroke-width="1.1"/><text x="-89.91" y="14.30" font-size="17.5" fill="#383838" style="font-family:'Liberation Serif','Times New Roman',serif;font-style:italic" stroke="#383838" stroke-width="0.25" transform="rotate(-90)">T</text><text x="-84.02" y="11.00" font-size="17.5" fill="#383838" style="font-family:'Liberation Serif','Times New Roman',serif" stroke="#383838" stroke-width="0.25" transform="rotate(-90)">˜</text><text x="-75.77" y="14.30" font-size="17.5" fill="#383838" style="font-family:'Liberation Serif','Times New Roman',serif" stroke="#383838" stroke-width="0.25" transform="rotate(-90)">(</text><text x="-68.29" y="14.30" font-size="17.5" fill="#383838" style="font-family:'Liberation Serif','Times New Roman',serif;font-style:italic" stroke="#383838" stroke-width="0.25" transform="rotate(-90)">t</text><text x="-60.26" y="14.30" font-size="17.5" fill="#383838" style="font-family:'Liberation Serif','Times New Roman',serif" stroke="#383838" stroke-width="0.25" transform="rotate(-90)">)</text><text x="-90.56" y="37.00" font-size="17.5" fill="#383838" style="font-family:'Liberation Serif','Times New Roman',serif;font-style:italic" stroke="#383838" stroke-width="0.25" transform="rotate(-90)">T</text><text x="-85.02" y="33.70" font-size="17.5" fill="#383838" style="font-family:'Liberation Serif','Times New Roman',serif" stroke="#383838" stroke-width="0.25" transform="rotate(-90)">˜</text><text x="-76.17" y="37.00" font-size="17.5" fill="#383838" style="font-family:'Liberation Serif','Times New Roman',serif" stroke="#383838" stroke-width="0.25" transform="rotate(-90)">(</text><text x="-69.67" y="37.00" font-size="17.5" fill="#383838" style="font-family:'Liberation Serif','Times New Roman',serif" stroke="#383838" stroke-width="0.25" transform="rotate(-90)">0</text><text x="-60.06" y="37.00" font-size="17.5" fill="#383838" style="font-family:'Liberation Serif','Times New Roman',serif" stroke="#383838" stroke-width="0.25" transform="rotate(-90)">)</text><text x="-596.07" y="26.70" font-size="22.5" fill="#383838" textLength="16.15" lengthAdjust="spacingAndGlyphs" style="font-family:'Liberation Serif','Times New Roman',serif" stroke="#383838" stroke-width="0.25" transform="rotate(-90)">ϒ</text><text x="-570.79" y="28.90" font-size="24" fill="#383838" textLength="18.06" lengthAdjust="spacingAndGlyphs" style="font-family:'Liberation Serif','Times New Roman',serif" stroke="#222" stroke-width="0.15" transform="rotate(-90)">=</text><path d="M20.4 541.8V499.4" stroke="#383838" stroke-width="1.1"/><text x="-539.67" y="14.00" font-size="17.5" fill="#383838" style="font-family:'Liberation Serif','Times New Roman',serif;font-style:italic" stroke="#383838" stroke-width="0.25" transform="rotate(-90)">g</text><text x="-538.22" y="14.20" font-size="17.5" fill="#383838" style="font-family:'Liberation Serif','Times New Roman',serif" stroke="#383838" stroke-width="0.25" transform="rotate(-90)">˜</text><text x="-528.80" y="16.60" font-size="11" fill="#383838" style="font-family:'Liberation Serif','Times New Roman',serif;font-style:italic" stroke="#383838" stroke-width="0.25" transform="rotate(-90)">o</text><text x="-520.97" y="14.30" font-size="17.5" fill="#383838" style="font-family:'Liberation Serif','Times New Roman',serif" stroke="#383838" stroke-width="0.25" transform="rotate(-90)">(</text><text x="-513.69" y="14.30" font-size="17.5" fill="#383838" style="font-family:'Liberation Serif','Times New Roman',serif;font-style:italic" stroke="#383838" stroke-width="0.25" transform="rotate(-90)">t</text><text x="-504.86" y="14.30" font-size="17.5" fill="#383838" style="font-family:'Liberation Serif','Times New Roman',serif" stroke="#383838" stroke-width="0.25" transform="rotate(-90)">)</text><text x="-540.07" y="33.20" font-size="17.5" fill="#383838" style="font-family:'Liberation Serif','Times New Roman',serif;font-style:italic" stroke="#383838" stroke-width="0.25" transform="rotate(-90)">g</text><text x="-538.82" y="33.40" font-size="17.5" fill="#383838" style="font-family:'Liberation Serif','Times New Roman',serif" stroke="#383838" stroke-width="0.25" transform="rotate(-90)">˜</text><text x="-529.60" y="36.00" font-size="11" fill="#383838" style="font-family:'Liberation Serif','Times New Roman',serif;font-style:italic" stroke="#383838" stroke-width="0.25" transform="rotate(-90)">o</text><text x="-521.17" y="33.40" font-size="17.5" fill="#383838" style="font-family:'Liberation Serif','Times New Roman',serif" stroke="#383838" stroke-width="0.25" transform="rotate(-90)">(</text><text x="-514.52" y="33.40" font-size="17.5" fill="#383838" style="font-family:'Liberation Serif','Times New Roman',serif" stroke="#383838" stroke-width="0.25" transform="rotate(-90)">0</text><text x="-504.46" y="33.40" font-size="17.5" fill="#383838" style="font-family:'Liberation Serif','Times New Roman',serif" stroke="#383838" stroke-width="0.25" transform="rotate(-90)">)</text><text x="-489.79" y="28.90" font-size="24" fill="#383838" textLength="18.06" lengthAdjust="spacingAndGlyphs" style="font-family:'Liberation Serif','Times New Roman',serif" stroke="#222" stroke-width="0.15" transform="rotate(-90)">=</text><path d="M20.4 460.1V423.3" stroke="#383838" stroke-width="1.1"/><text x="-458.91" y="14.30" font-size="17.5" fill="#383838" style="font-family:'Liberation Serif','Times New Roman',serif;font-style:italic" stroke="#383838" stroke-width="0.25" transform="rotate(-90)">T</text><text x="-453.02" y="11.00" font-size="17.5" fill="#383838" style="font-family:'Liberation Serif','Times New Roman',serif" stroke="#383838" stroke-width="0.25" transform="rotate(-90)">˜</text><text x="-444.77" y="14.30" font-size="17.5" fill="#383838" style="font-family:'Liberation Serif','Times New Roman',serif" stroke="#383838" stroke-width="0.25" transform="rotate(-90)">(</text><text x="-437.29" y="14.30" font-size="17.5" fill="#383838" style="font-family:'Liberation Serif','Times New Roman',serif;font-style:italic" stroke="#383838" stroke-width="0.25" transform="rotate(-90)">t</text><text x="-429.26" y="14.30" font-size="17.5" fill="#383838" style="font-family:'Liberation Serif','Times New Roman',serif" stroke="#383838" stroke-width="0.25" transform="rotate(-90)">)</text><text x="-459.56" y="37.00" font-size="17.5" fill="#383838" style="font-family:'Liberation Serif','Times New Roman',serif;font-style:italic" stroke="#383838" stroke-width="0.25" transform="rotate(-90)">T</text><text x="-454.02" y="33.70" font-size="17.5" fill="#383838" style="font-family:'Liberation Serif','Times New Roman',serif" stroke="#383838" stroke-width="0.25" transform="rotate(-90)">˜</text><text x="-445.17" y="37.00" font-size="17.5" fill="#383838" style="font-family:'Liberation Serif','Times New Roman',serif" stroke="#383838" stroke-width="0.25" transform="rotate(-90)">(</text><text x="-438.68" y="37.00" font-size="17.5" fill="#383838" style="font-family:'Liberation Serif','Times New Roman',serif" stroke="#383838" stroke-width="0.25" transform="rotate(-90)">0</text><text x="-429.06" y="37.00" font-size="17.5" fill="#383838" style="font-family:'Liberation Serif','Times New Roman',serif" stroke="#383838" stroke-width="0.25" transform="rotate(-90)">)</text><text x="-896.10" y="25.60" font-size="22.5" fill="#151515" textLength="15.15" lengthAdjust="spacingAndGlyphs" style="font-family:'Liberation Serif','Times New Roman',serif" stroke="#151515" stroke-width="0.2" transform="rotate(-90)">α</text><text x="-881.32" y="37.00" font-size="17" letter-spacing="-0.25" fill="#151515" style="font-family:'Liberation Sans',Arial,sans-serif"  transform="rotate(-90)" stroke="#151515" stroke-width="0.35" stroke-linejoin="round">eff</text><text x="-859.95" y="24.40" font-size="20.5" fill="#151515" style="font-family:'Liberation Sans',Arial,sans-serif"  transform="rotate(-90)" stroke="#151515" stroke-width="0.35" stroke-linejoin="round">/</text><text x="-853.42" y="25.60" font-size="22.5" fill="#151515" textLength="12.66" lengthAdjust="spacingAndGlyphs" style="font-family:'Liberation Serif','Times New Roman',serif" stroke="#151515" stroke-width="0.2" transform="rotate(-90)">α</text><text x="-840.03" y="37.20" font-size="17.5" letter-spacing="0.67" fill="#151515" style="font-family:'Liberation Sans',Arial,sans-serif"  transform="rotate(-90)" stroke="#151515" stroke-width="0.35" stroke-linejoin="round">bulk</text></svg>
</body></html>
